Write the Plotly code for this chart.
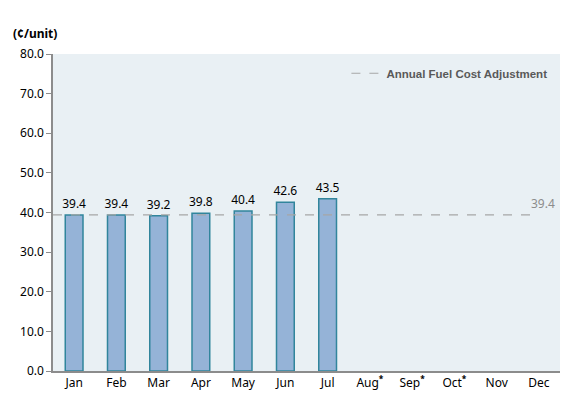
import plotly.graph_objects as go

# 月別データ
months = ["Jan", "Feb", "Mar", "Apr", "May", "Jun", "Jul",
          "Aug", "Sep", "Oct", "Nov", "Dec"]
month_labels = ["Jan", "Feb", "Mar", "Apr", "May", "Jun", "Jul",
                "Aug<sup><b>*</b></sup>", "Sep<sup><b>*</b></sup>", "Oct<sup><b>*</b></sup>", "Nov", "Dec"]
fuel_cost = [39.4, 39.4, 39.2, 39.8, 40.4, 42.6, 43.5]
annual_adj = 39.4
y_ticks = [0, 10, 20, 30, 40, 50, 60, 70, 80]

fig = go.Figure()

fig.add_trace(go.Bar(
    x=months[:len(fuel_cost)],
    y=fuel_cost,
    width=0.42,
    marker=dict(color="#95B3D7", line=dict(color="#31859C", width=1.5)),
    text=[f"{v:.1f}" for v in fuel_cost],
    textposition="outside",
    textfont=dict(family="Noto Sans", size=12, color="#000000"),
    cliponaxis=False,
    showlegend=False,
))

# 凡例用のダミー
fig.add_trace(go.Scatter(
    x=[None], y=[None], mode="lines",
    name="Annual Fuel Cost Adjustment",
    line=dict(color="#A6A6A6", width=1.2, dash="dash"),
))

# 年間調整ライン
fig.add_shape(type="line", xref="x", yref="y",
              x0=-0.5, x1=11, y0=annual_adj, y1=annual_adj,
              line=dict(color="#A6A6A6", width=1.2, dash="dash"))

fig.add_annotation(x=11, y=annual_adj, text=f"{annual_adj:.1f}",
                   showarrow=False, xshift=4, yshift=11,
                   font=dict(family="Noto Sans", size=12, color="#8C8C8C"))

fig.add_annotation(xref="paper", yref="paper", x=-0.082, y=1.03,
                   xanchor="left", yanchor="bottom", showarrow=False,
                   text="<b>(¢/unit)</b>",
                   font=dict(family="Noto Sans", size=12, color="#000000"))

# ページ余白(8px)を考慮したマージン
fig.update_layout(
    width=579, height=400,
    margin=dict(l=41, r=27, t=46, b=37),
    paper_bgcolor="white",
    plot_bgcolor="#E9F0F4",
    uniformtext=dict(minsize=12, mode="show"),
    font=dict(family="Noto Sans", size=12, color="#000000"),
    legend=dict(x=0.985, y=0.985, xanchor="right", yanchor="top",
                bgcolor="rgba(0,0,0,0)", itemwidth=30,
                font=dict(family="Liberation Sans Narrow, Arial Narrow, Liberation Sans",
                          size=11.5, color="#595959", weight="bold")),
    xaxis=dict(
        categoryorder="array", categoryarray=months,
        tickvals=months, ticktext=month_labels,
        range=[-0.5, 11.5],
        showgrid=False, showline=True, linecolor="#8C8C8C", linewidth=1.5,
        ticks="", tickfont=dict(size=12),
    ),
    yaxis=dict(
        range=[0, 80], tickvals=y_ticks, tickformat=".1f",
        showgrid=False, zeroline=False,
        showline=True, linecolor="#8C8C8C", linewidth=1.5,
        ticks="outside", ticklen=5, tickcolor="#8C8C8C",
        tickfont=dict(size=12),
    ),
)

fig.write_html("out.html")
